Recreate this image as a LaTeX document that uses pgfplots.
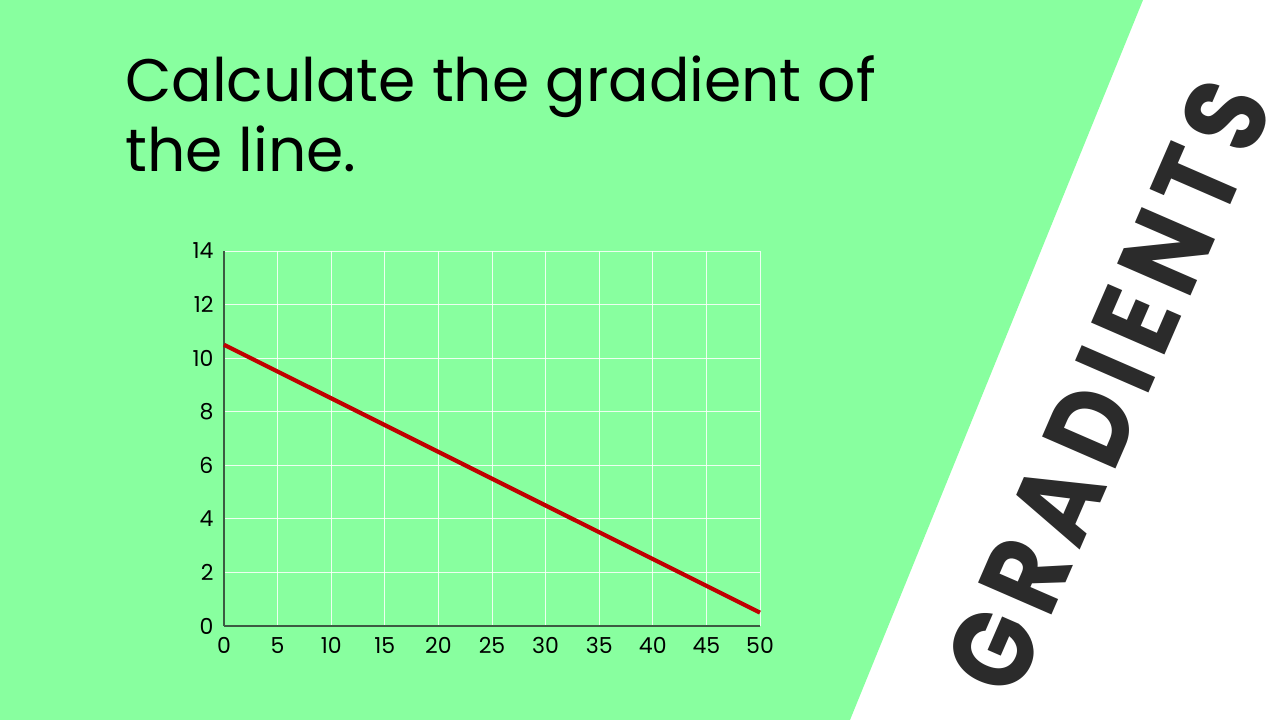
\documentclass[border=0pt]{standalone}
\usepackage{pgfplots}
\pgfplotsset{compat=1.18}
\usepackage{fontspec}
\setmainfont{Poppins}
\definecolor{bggreen}{RGB}{136,255,159}
\definecolor{linered}{RGB}{192,0,0}
\definecolor{darktext}{RGB}{43,43,43}
\definecolor{axisgray}{RGB}{60,90,66}
\begin{document}
\begin{tikzpicture}[x=1pt,y=1pt]
\useasboundingbox (0,0) rectangle (1280,720);
\fill[white] (0,0) rectangle (1280,720);
\fill[bggreen] (0,0) -- (0,720) -- (1143,720) -- (850,0) -- cycle;
\node[anchor=base west,inner sep=0pt,font=\fontsize{60}{70}\selectfont] at (125,618) {Calculate the gradient of};
\node[anchor=base west,inner sep=0pt,font=\fontsize{60}{70}\selectfont] at (125,548) {the line.};
\node[rotate=66.5,inner sep=0pt,font=\fontsize{114}{120}\selectfont\bfseries\addfontfeatures{LetterSpace=12},text=darktext] at (1108,334) {\scalebox{0.86}[1]{GRADIENTS}};
\begin{axis}[
  at={(224pt,94pt)}, anchor=south west,
  scale only axis, width=536pt, height=375pt,
  xmin=0, xmax=50, ymin=0, ymax=14,
  xtick={0,5,...,50}, ytick={0,2,...,14},
  axis x line*=bottom, axis y line*=left,
  axis line style={axisgray, line width=1.2pt, -},
  grid=major, major grid style={white, opacity=0.85, line width=0.8pt},
  major tick length=0pt,
  tick label style={font=\fontsize{22}{23}\selectfont, text=black},
  /pgf/number format/assume math mode=true,
  xticklabel style={yshift=-9pt, text height=15pt, text depth=0pt},
  yticklabel style={xshift=-7pt},
  clip=false,
]
\addplot[linered, line width=4.2pt] coordinates {(0,10.5) (50,0.5)};
\end{axis}
\end{tikzpicture}
\end{document}
